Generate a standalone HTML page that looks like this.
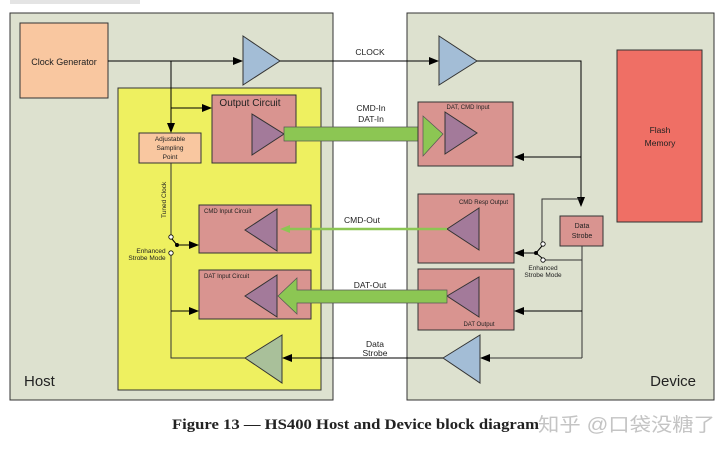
<!DOCTYPE html>
<html><head><meta charset="utf-8"><style>
html,body{margin:0;padding:0;background:#fff;width:727px;height:452px;overflow:hidden}
svg{display:block}
text{font-family:"Liberation Sans","DejaVu Sans",sans-serif;fill:#222}
</style></head><body>
<svg width="727" height="452" viewBox="0 0 727 452" xmlns="http://www.w3.org/2000/svg">
<defs>
<marker id="a" markerWidth="10" markerHeight="8" refX="9" refY="4" orient="auto" markerUnits="userSpaceOnUse"><path d="M0,0 L10,4 L0,8 Z" fill="#000"/></marker>
</defs>
<rect x="10" y="0" width="130" height="4" fill="#e4e4e4"/>
<rect x="10" y="13" width="323" height="387" fill="#dde1cf" stroke="#333" stroke-width="1"/>
<rect x="407" y="13" width="307" height="387" fill="#dde1cf" stroke="#333" stroke-width="1"/>
<rect x="118" y="88" width="203" height="302" fill="#eef060" stroke="#333" stroke-width="1"/>
<rect x="20" y="23" width="88" height="75" fill="#f9c7a0" stroke="#333"/>
<text x="64" y="65" font-size="9" text-anchor="middle">Clock Generator</text>
<line x1="108" y1="61" x2="242" y2="61" stroke="#000" marker-end="url(#a)"/>
<line x1="171" y1="61" x2="171" y2="132" stroke="#000" marker-end="url(#a)"/>
<line x1="171" y1="108" x2="211" y2="108" stroke="#000" marker-end="url(#a)"/>
<polygon points="243,36 280,61 243,85" fill="#a3bdd6" stroke="#333"/>
<line x1="280" y1="61" x2="438" y2="61" stroke="#000" marker-end="url(#a)"/>
<text x="370" y="55" font-size="8.5" text-anchor="middle">CLOCK</text>
<rect x="212" y="95" width="84" height="68" fill="#d99490" stroke="#333"/>
<text x="250" y="106" font-size="10" text-anchor="middle">Output Circuit</text>
<polygon points="252,114 284,134 252,155" fill="#a37a9a" stroke="#333"/>
<rect x="139" y="133" width="62" height="30" fill="#f9c7a0" stroke="#333"/>
<text x="170" y="141" font-size="6.5" text-anchor="middle">Adjustable</text>
<text x="170" y="150" font-size="6.5" text-anchor="middle">Sampling</text>
<text x="170" y="159" font-size="6.5" text-anchor="middle">Point</text>
<line x1="171" y1="163" x2="171" y2="235" stroke="#333"/>
<text transform="translate(166,218) rotate(-90)" font-size="6.5">Tuned Clock</text>
<polygon points="284,127 423,127 423,116 443,134 423,156 423,141 284,141" fill="#8cc653" stroke="#555" stroke-width="0.7"/>
<text x="371" y="111" font-size="8.5" text-anchor="middle">CMD-In</text>
<text x="371" y="122" font-size="8.5" text-anchor="middle">DAT-In</text>
<rect x="418" y="102" width="95" height="64" fill="#d99490" stroke="#333"/>
<text x="468" y="109" font-size="6" text-anchor="middle">DAT, CMD Input</text>
<polygon points="445,112 477,133 445,154" fill="#a37a9a" stroke="#333"/>
<polygon points="423,116 443,134 423,156" fill="#8cc653" stroke="#555" stroke-width="0.7"/>
<polygon points="439,36 477,61 439,85" fill="#a3bdd6" stroke="#333"/>
<polyline points="477,61 581,61 581,206" fill="none" stroke="#000" marker-end="url(#a)"/>
<line x1="581" y1="157" x2="515" y2="157" stroke="#000" marker-end="url(#a)"/>
<rect x="617" y="50" width="85" height="172" fill="#ef6f65" stroke="#333"/>
<text x="660" y="133" font-size="8.5" text-anchor="middle">Flash</text>
<text x="660" y="146" font-size="8.5" text-anchor="middle">Memory</text>
<rect x="199" y="205" width="112" height="48" fill="#d99490" stroke="#333"/>
<text x="204" y="213" font-size="6">CMD Input Circuit</text>
<polygon points="245,230 277,209 277,251" fill="#a37a9a" stroke="#333"/>
<rect x="199" y="270" width="112" height="49" fill="#d99490" stroke="#333"/>
<text x="204" y="278" font-size="6">DAT Input Circuit</text>
<polygon points="245,296 277,275 277,317" fill="#a37a9a" stroke="#333"/>
<circle cx="171" cy="237" r="2.2" fill="#fff" stroke="#000" stroke-width="0.8"/>
<circle cx="171" cy="253" r="2.2" fill="#fff" stroke="#000" stroke-width="0.8"/>
<line x1="172" y1="239" x2="177" y2="245" stroke="#000"/>
<circle cx="177" cy="245" r="2" fill="#000"/>
<line x1="177" y1="245" x2="198" y2="245" stroke="#000" marker-end="url(#a)"/>
<text x="151" y="253" font-size="6.5" text-anchor="middle">Enhanced</text>
<text x="147" y="260" font-size="6.5" text-anchor="middle">Strobe Mode</text>
<polyline points="171,255 171,358 245,358" fill="none" stroke="#333"/>
<line x1="171" y1="311" x2="198" y2="311" stroke="#000" marker-end="url(#a)"/>
<rect x="418" y="194" width="96" height="69" fill="#d99490" stroke="#333"/>
<text x="508" y="204" font-size="6" text-anchor="end">CMD Resp Output</text>
<polygon points="447,229 479,208 479,250" fill="#a37a9a" stroke="#333"/>
<rect x="418" y="269" width="96" height="61" fill="#d99490" stroke="#333"/>
<text x="479" y="326" font-size="6" text-anchor="middle">DAT Output</text>
<polygon points="447,296 479,277 479,317" fill="#a37a9a" stroke="#333"/>
<line x1="447" y1="229" x2="288" y2="229" stroke="#8cc653" stroke-width="2.5"/>
<polygon points="280,229 290,225 290,233" fill="#8cc653"/>
<text x="362" y="223" font-size="8.5" text-anchor="middle">CMD-Out</text>
<polygon points="447,290 297,290 297,278 278,296 297,314 297,303 447,303" fill="#8cc653" stroke="#555" stroke-width="0.7"/>
<text x="370" y="288" font-size="8.5" text-anchor="middle">DAT-Out</text>
<rect x="560" y="216" width="43" height="30" fill="#d99490" stroke="#333"/>
<text x="582" y="228" font-size="7" text-anchor="middle">Data</text>
<text x="582" y="238" font-size="7" text-anchor="middle">Strobe</text>
<polyline points="581,199 542,199 542,242" fill="none" stroke="#333"/>
<polyline points="545,260 582,260" fill="none" stroke="#333"/>
<line x1="582" y1="246" x2="582" y2="358" stroke="#333"/>
<circle cx="543" cy="244" r="2.2" fill="#fff" stroke="#000" stroke-width="0.8"/>
<circle cx="543" cy="260" r="2.2" fill="#fff" stroke="#000" stroke-width="0.8"/>
<line x1="542" y1="246" x2="536" y2="253" stroke="#000"/>
<line x1="542" y1="258" x2="536" y2="253" stroke="#000"/>
<circle cx="536" cy="253" r="2" fill="#000"/>
<line x1="536" y1="253" x2="515" y2="253" stroke="#000" marker-end="url(#a)"/>
<text x="543" y="270" font-size="6.5" text-anchor="middle">Enhanced</text>
<text x="543" y="277" font-size="6.5" text-anchor="middle">Strobe Mode</text>
<line x1="582" y1="311" x2="515" y2="311" stroke="#000" marker-end="url(#a)"/>
<line x1="582" y1="358" x2="481" y2="358" stroke="#333" marker-end="url(#a)"/>
<polygon points="443,358 480,335 480,383" fill="#a3bdd6" stroke="#333"/>
<line x1="443" y1="358" x2="283" y2="358" stroke="#000" marker-end="url(#a)"/>
<polygon points="245,358 282,335 282,383" fill="#a9c09a" stroke="#333"/>
<text x="375" y="347" font-size="8.5" text-anchor="middle">Data</text>
<text x="375" y="356" font-size="8.5" text-anchor="middle">Strobe</text>
<text x="24" y="386" font-size="15">Host</text>
<text x="696" y="386" font-size="15" text-anchor="end">Device</text>
<text x="172" y="429" font-size="15" font-weight="bold" textLength="367" lengthAdjust="spacingAndGlyphs" style="font-family:'Liberation Serif',serif">Figure 13 — HS400 Host and Device block diagram</text>
<text x="538" y="431" font-size="19" textLength="177" lengthAdjust="spacingAndGlyphs" style="font-family:'Liberation Sans','Noto Sans CJK SC',sans-serif;fill:#c4c4c4">知乎 @口袋没糖了</text>
</svg>
</body></html>
